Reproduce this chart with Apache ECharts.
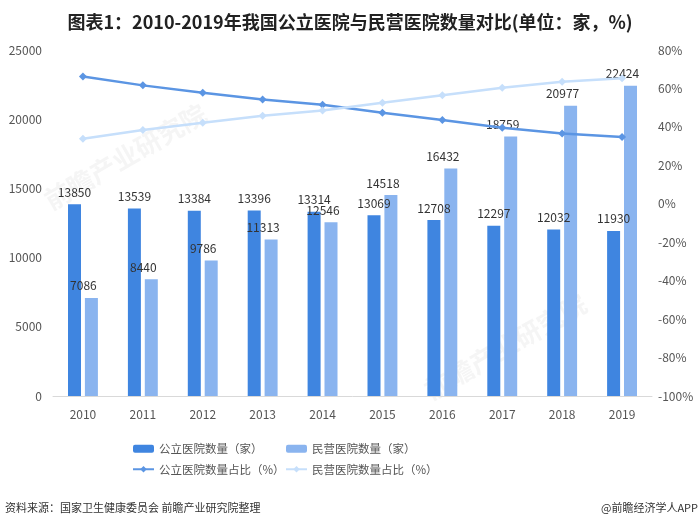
<!DOCTYPE html>
<html>
<head>
<meta charset="utf-8">
<script src="https://cdn.jsdelivr.net/npm/echarts@6/dist/echarts.min.js"></script>
<style>
  html, body { margin: 0; padding: 0; background: #fff; }
  #main { width: 700px; height: 530px; }
</style>
</head>
<body>
<div id="main"></div>
<script>
var years = ['2010', '2011', '2012', '2013', '2014', '2015', '2016', '2017', '2018', '2019'];
var publicCount = [13850, 13539, 13384, 13396, 13314, 13069, 12708, 12297, 12032, 11930];
var privateCount = [7086, 8440, 9786, 11313, 12546, 14518, 16432, 18759, 20977, 22424];
var publicShare = [66.2, 61.6, 57.8, 54.2, 51.5, 47.4, 43.6, 39.6, 36.5, 34.7];
var privateShare = [33.8, 38.4, 42.2, 45.8, 48.5, 52.6, 56.4, 60.4, 63.5, 65.3];

var font = '"Noto Sans CJK SC", "Noto Sans", sans-serif';
var myChart = echarts.init(document.getElementById('main'));

var legendText = { fontSize: 11.5, color: '#555' };

var option = {
  textStyle: { fontFamily: font },
  title: {
    text: '图表1：2010-2019年我国公立医院与民营医院数量对比(单位：家，%)',
    left: 'center',
    top: 8,
    textStyle: { fontSize: 18, fontWeight: 'bold', color: '#222', fontFamily: font }
  },
  legend: [
    {
      data: ['公立医院数量（家）', '公立医院数量占比（%）'],
      orient: 'vertical',
      left: 127,
      top: 438,
      itemWidth: 21,
      itemHeight: 8,
      itemGap: 9,
      textStyle: legendText
    },
    {
      data: ['民营医院数量（家）', '民营医院数量占比（%）'],
      orient: 'vertical',
      left: 280,
      top: 438,
      itemWidth: 21,
      itemHeight: 8,
      itemGap: 9,
      textStyle: legendText
    }
  ],
  grid: { left: 53, right: 48, top: 50, bottom: 134 },
  xAxis: {
    type: 'category',
    data: years,
    axisLine: { lineStyle: { color: '#d9d9d9' } },
    axisTick: { show: false },
    axisLabel: { color: '#555', fontSize: 12, margin: 12 }
  },
  yAxis: [
    {
      type: 'value',
      min: 0,
      max: 25000,
      interval: 5000,
      splitLine: { show: false },
      axisLabel: { color: '#555', fontSize: 12, margin: 11, formatter: function (v) { return String(v); } }
    },
    {
      type: 'value',
      min: -100,
      max: 80,
      interval: 20,
      splitLine: { show: false },
      axisLabel: { color: '#555', fontSize: 12, margin: 6, formatter: '{value}%' }
    }
  ],
  series: [
    {
      name: '公立医院数量（家）',
      type: 'bar',
      data: publicCount,
      barWidth: 13,
      barGap: '30%',
      itemStyle: { color: '#3f85e0' },
      label: { show: true, position: 'top', color: '#333', fontSize: 12, distance: 6 }
    },
    {
      name: '民营医院数量（家）',
      type: 'bar',
      data: privateCount,
      barWidth: 13,
      itemStyle: { color: '#8ab4ef' },
      label: { show: true, position: 'top', color: '#333', fontSize: 12, distance: 6, offset: [-8, 0] }
    },
    {
      name: '公立医院数量占比（%）',
      type: 'line',
      yAxisIndex: 1,
      data: publicShare,
      symbol: 'diamond',
      symbolSize: 8,
      lineStyle: { color: '#5b95e3', width: 2.5 },
      itemStyle: { color: '#5b95e3' }
    },
    {
      name: '民营医院数量占比（%）',
      type: 'line',
      yAxisIndex: 1,
      data: privateShare,
      symbol: 'diamond',
      symbolSize: 8,
      lineStyle: { color: '#c6dffb', width: 2.5 },
      itemStyle: { color: '#c6dffb' }
    }
  ],
  graphic: [
    {
      type: 'text',
      left: 5,
      top: 502,
      style: { text: '资料来源：国家卫生健康委员会 前瞻产业研究院整理', fontSize: 11, fill: '#333', fontFamily: font }
    },
    {
      type: 'text',
      right: 2,
      top: 502,
      style: { text: '@前瞻经济学人APP', fontSize: 11, fill: '#333', fontFamily: font }
    },
    {
      type: 'text',
      left: 40,
      top: 100,
      rotation: Math.PI / 6,
      style: { text: '前瞻产业研究院', fontSize: 26, fontWeight: 'bold', fill: 'rgba(200,200,200,0.18)', fontFamily: font }
    },
    {
      type: 'text',
      left: 420,
      top: 290,
      rotation: Math.PI / 6,
      style: { text: '前瞻产业研究院', fontSize: 26, fontWeight: 'bold', fill: 'rgba(200,200,200,0.18)', fontFamily: font }
    }
  ]
};

myChart.setOption(option);
</script>
</body>
</html>
